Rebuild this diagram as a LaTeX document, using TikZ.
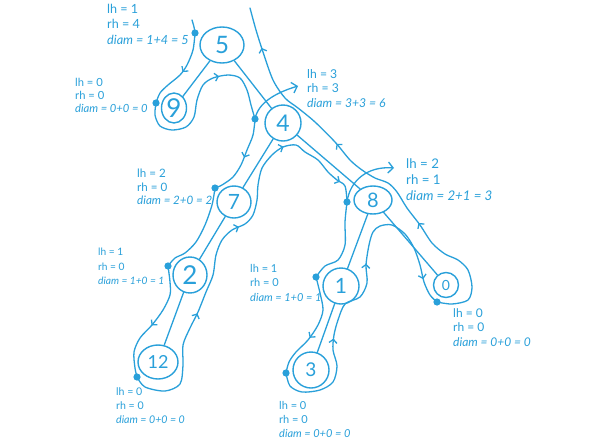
\documentclass[tikz,border=0pt]{standalone}
\usepackage{fontspec}
\setmainfont{Lato}
\usetikzlibrary{shapes.geometric,arrows.meta,decorations.markings}
\definecolor{ink}{RGB}{41,160,218}
\newcommand{\tipmark}{\arrow{Straight Barb[length=3.5pt,width=8pt]}}
\begin{document}
\begin{tikzpicture}[x=1pt,y=-1pt,
  tnode/.style={draw=ink, ellipse, line width=1.4pt, inner sep=0pt, text=ink},
  lab/.style={anchor=north west, align=left, inner sep=0pt, text=ink},
  edgeline/.style={draw=ink, line width=1.3pt, line cap=round},
  tour/.style={draw=ink, color=ink, line width=1.3pt, line cap=round, line join=round},
  marks/.style={postaction={decorate}, decoration={markings, #1}},
  bigtip/.style={-{Straight Barb[length=5pt,width=11pt]}},
  dotm/.style={fill=ink}
]
\fill[white] (0,0) rectangle (596,442);
\useasboundingbox (0,0) rectangle (596,442);

% tree nodes
\node[tnode, minimum width=44pt, minimum height=36pt, font=\fontsize{24}{24}\selectfont] (n5) at (222,45) {5};
\node[tnode, minimum width=25pt, minimum height=30pt, font=\fontsize{26}{26}\selectfont] (n9) at (174,108) {9};
\node[tnode, minimum width=36pt, minimum height=36pt, font=\fontsize{23}{23}\selectfont] (n4) at (283,123) {4};
\node[tnode, minimum width=38pt, minimum height=28pt, font=\fontsize{20}{20}\selectfont] (n8) at (373,200) {8};
\node[tnode, minimum width=34pt, minimum height=32pt, font=\fontsize{21}{21}\selectfont] (n7) at (234,202) {7};
\node[tnode, minimum width=34pt, minimum height=36pt, font=\fontsize{26}{26}\selectfont] (n2) at (190,275) {2};
\node[tnode, minimum width=40pt, minimum height=34pt, font=\fontsize{18}{18}\selectfont] (n12) at (158,362) {12};
\node[tnode, minimum width=36pt, minimum height=36pt, font=\fontsize{21}{21}\selectfont] (n1) at (341,286) {1};
\node[tnode, minimum width=36pt, minimum height=36pt, font=\fontsize{19}{19}\selectfont] (n3) at (311,370) {3};
\node[tnode, minimum width=25pt, minimum height=25pt, font=\fontsize{14}{14}\selectfont] (n0) at (446,285) {0};

% tree edges
\draw[edgeline] (n5) -- (n9);
\draw[edgeline] (n5) -- (n4);
\draw[edgeline] (n4) -- (n7);
\draw[edgeline] (n4) -- (n8);
\draw[edgeline] (n7) -- (n2);
\draw[edgeline] (n2) -- (n12);
\draw[edgeline] (n8) -- (n1);
\draw[edgeline] (n8) -- (n0);
\draw[edgeline] (n1) -- (n3);

% visit points
\coordinate (d5) at (195,33);
\coordinate (d9) at (156,103);
\coordinate (d4) at (255,119);
\coordinate (d7) at (215,188);
\coordinate (d2) at (168,266);
\coordinate (d12) at (137,377);
\coordinate (d8) at (347,202);
\coordinate (d1) at (316,277);
\coordinate (d3) at (286,373);
\coordinate (d0) at (437,302);

% tour
\draw[tour] plot[smooth] coordinates {(192,20) (194,27) (d5)};
\draw[tour, marks={mark=at position 0.5 with {\tipmark}}] plot[smooth] coordinates {(d5) (193,50) (187,65) (180,75) (168,85) (160,93) (d9)};
\draw[tour, marks={mark=at position 0.64 with {\tipmark}}] plot[smooth] coordinates {(d9) (155,115) (160,126) (172,130) (186,127) (194,117) (197,100) (203,85) (213,78) (228,75) (240,78) (247,90) (251,105) (d4)};
\draw[tour, marks={mark=at position 0.48 with {\tipmark}}] plot[smooth] coordinates {(d4) (253,135) (247,150) (241,165) (233,177) (222,185) (d7)};
\draw[tour] plot[smooth] coordinates {(d7) (212,205) (205,225) (196,242) (185,253) (175,258) (d2)};
\draw[tour, marks={mark=at position 0.53 with {\tipmark}}] plot[smooth] coordinates {(d2) (170,282) (170,295) (163,310) (152,325) (140,338) (134,352) (135,368) (d12)};
\draw[tour, marks={mark=at position 0.30 with {\tipmark}, mark=at position 0.54 with {\tipmark}, mark=at position 0.775 with {\tipmark}, mark=at position 0.945 with {\tipmark}}] plot[smooth] coordinates {(d12) (145,387) (165,391) (180,384) (183,365) (183,345) (190,328) (198,312) (206,292) (213,275) (216,255) (222,240) (232,230) (245,224) (253,215) (257,200) (258,185) (262,168) (272,155) (283,147) (296,145) (305,152) (318,160) (328,172) (337,180) (345,186) (d8)};
\draw[tour] plot[smooth] coordinates {(d8) (345,222) (345,245) (338,260) (325,266) (d1)};
\draw[tour, marks={mark=at position 0.6 with {\tipmark}}] plot[smooth] coordinates {(d1) (320,293) (323,310) (318,325) (308,340) (296,352) (289,362) (d3)};
\draw[tour, marks={mark=at position 0.31 with {\tipmark}, mark=at position 0.57 with {\tipmark}, mark=at position 0.92 with {\tipmark}}] plot[smooth] coordinates {(d3) (290,386) (302,392) (320,390) (333,382) (337,366) (333,350) (334,335) (338,320) (345,304) (360,297) (367,283) (366,265) (369,245) (373,232) (380,226) (392,225) (405,234) (414,248) (420,265) (424,282) (430,295) (d0)};
\draw[tour, marks={mark=at position 0.32 with {\tipmark}, mark=at position 0.6 with {\tipmark}, mark=at position 0.9 with {\tipmark}}] plot[smooth] coordinates {(d0) (452,304) (468,300) (472,287) (468,270) (458,260) (445,254) (432,243) (420,225) (407,208) (397,192) (388,183) (375,178) (362,170) (350,160) (335,142) (315,122) (298,108) (285,98) (273,80) (263,52) (256,30) (250,8)};

% return arrows
\draw[tour, bigtip] (d4) .. controls (258,103) and (275,93) .. (298,86);
\draw[tour, bigtip] (d8) .. controls (350,180) and (368,166) .. (394,168);

% dots
\foreach \d in {d5,d9,d4,d7,d2,d12,d8,d1,d3,d0} \fill[dotm] (\d) circle (3.6pt);

% labels
\node[lab, font=\fontsize{12.6}{15.5}\selectfont] (L5) at (107,4) {lh = 1\\rh = 4\\\textit{diam = 1+4 = 5}};
\node[lab, font=\fontsize{11.2}{13}\selectfont] (L9) at (75,78) {lh = 0\\rh = 0\\\textit{diam = 0+0 = 0}};
\node[lab, font=\fontsize{12.2}{14.5}\selectfont] (L4) at (307,69) {lh = 3\\rh = 3\\\textit{diam = 3+3 = 6}};
\node[lab, font=\fontsize{13.3}{16}\selectfont] (L8) at (406,158) {lh = 2\\rh = 1\\\textit{diam = 2+1 = 3}};
\node[lab, font=\fontsize{11.6}{13.5}\selectfont] (L7) at (137,169) {lh = 2\\rh = 0\\\textit{diam = 2+0 = 2}};
\node[lab, font=\fontsize{10.2}{14.5}\selectfont] (L2) at (98,248) {lh = 1\\rh = 0\\\textit{diam = 1+0 = 1}};
\node[lab, font=\fontsize{10.6}{14}\selectfont] (L12) at (116,387) {lh = 0\\rh = 0\\\textit{diam = 0+0 = 0}};
\node[lab, font=\fontsize{11}{14.5}\selectfont] (L1) at (250,264) {lh = 1\\rh = 0\\\textit{diam = 1+0 = 1}};
\node[lab, font=\fontsize{11}{14}\selectfont] (L3) at (279,401) {lh = 0\\rh = 0\\\textit{diam = 0+0 = 0}};
\node[lab, font=\fontsize{12}{14.5}\selectfont] (L0) at (453,308) {lh = 0\\rh = 0\\\textit{diam = 0+0 = 0}};
\end{tikzpicture}
\end{document}
